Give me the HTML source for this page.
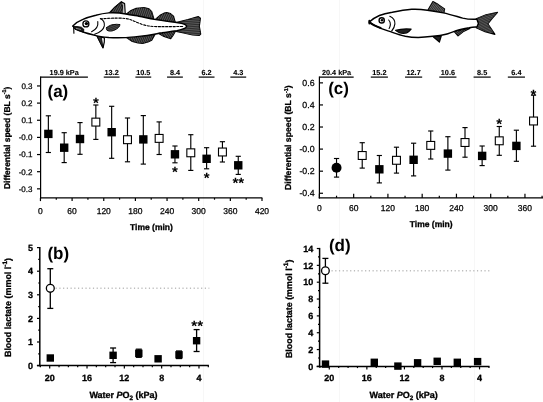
<!DOCTYPE html>
<html><head><meta charset="utf-8"><title>Figure</title>
<style>
html,body{margin:0;padding:0;background:#fff;}
svg{display:block;}
svg text{text-rendering:geometricPrecision;font-family:"Liberation Sans",sans-serif;fill:#000;}
</style></head><body>
<svg width="543" height="402" viewBox="0 0 543 402">
<rect width="543" height="402" fill="#fff"/>
<line x1="203.5" y1="0" x2="203.5" y2="402" stroke="#f7f7f7" stroke-width="1"/><line x1="339.5" y1="0" x2="339.5" y2="402" stroke="#f7f7f7" stroke-width="1"/><line x1="474.5" y1="0" x2="474.5" y2="402" stroke="#f7f7f7" stroke-width="1"/>
<g id="cod" stroke="#000" stroke-width="1.2" stroke-linejoin="round" stroke-linecap="round" fill="none">
<path d="M109 13.4 L115 7.2 L121.3 1.9 L124.6 3.6 L125.2 13.6 Z" fill="#fff" stroke-width="1.2"/>
<clipPath id="fc1"><path d="M109 13.4 L115 7.2 L121.3 1.9 L122.4 6 L122 13.4 Z"/></clipPath>
<path d="M109 13.4 L115 7.2 L121.3 1.9 L122.4 6 L122 13.4 Z" fill="#262626" stroke-width="1.2"/>
<path d="M101.2 12.0L111.6 -7.7M102.9 12.9L113.4 -6.8M104.7 13.8L115.2 -5.9M106.5 14.8L116.9 -4.9M108.2 15.7L118.7 -4.0M110.0 16.7L120.5 -3.0M111.8 17.6L122.2 -2.1M113.5 18.5L124.0 -1.2M115.3 19.5L125.8 -0.2M117.1 20.4L127.5 0.7M118.8 21.4L129.3 1.7M120.6 22.3L131.1 2.6M122.4 23.2L132.8 3.5" clip-path="url(#fc1)" stroke="#9a9a9a" stroke-width="0.45" fill="none"/>
<path d="M123.6 4.2 L123.8 13" stroke="#777" stroke-width="0.6"/>
<clipPath id="fc2"><path d="M126.5 14 L131 10.6 L136.2 8.4 L144 7.5 L149 8.8 L151.7 11.6 L153.9 18.9 Z"/></clipPath>
<path d="M126.5 14 L131 10.6 L136.2 8.4 L144 7.5 L149 8.8 L151.7 11.6 L153.9 18.9 Z" fill="#262626" stroke-width="1.2"/>
<path d="M117.5 22.1L128.6 -8.4M119.4 22.8L130.5 -7.7M121.3 23.5L132.4 -7.0M123.2 24.1L134.3 -6.4M125.1 24.8L136.2 -5.7M126.9 25.5L138.0 -5.0M128.8 26.2L139.9 -4.3M130.7 26.9L141.8 -3.6M132.6 27.6L143.7 -2.9M134.4 28.3L145.6 -2.3M136.3 28.9L147.4 -1.6M138.2 29.6L149.3 -0.9M140.1 30.3L151.2 -0.2M142.0 31.0L153.1 0.5M143.8 31.7L154.9 1.2M145.7 32.4L156.8 1.9M147.6 33.0L158.7 2.5M149.5 33.7L160.6 3.2M151.4 34.4L162.5 3.9" clip-path="url(#fc2)" stroke="#9a9a9a" stroke-width="0.45" fill="none"/>
<clipPath id="fc3"><path d="M155.6 19.2 L160 15.4 L164 13.2 L166.8 12.6 L170.5 13.6 L173.5 16.2 L175.4 22.8 Z"/></clipPath>
<path d="M155.6 19.2 L160 15.4 L164 13.2 L166.8 12.6 L170.5 13.6 L173.5 16.2 L175.4 22.8 Z" fill="#262626" stroke-width="1.2"/>
<path d="M147.4 23.2L158.2 -0.1M149.2 24.1L160.1 0.8M151.0 24.9L161.9 1.6M152.8 25.8L163.7 2.5M154.6 26.6L165.5 3.3M156.4 27.5L167.3 4.2M158.3 28.3L169.1 5.0M160.1 29.1L170.9 5.9M161.9 30.0L172.7 6.7M163.7 30.8L174.6 7.5M165.5 31.7L176.4 8.4M167.3 32.5L178.2 9.2M169.1 33.4L180.0 10.1M170.9 34.2L181.8 10.9M172.8 35.1L183.6 11.8" clip-path="url(#fc3)" stroke="#9a9a9a" stroke-width="0.45" fill="none"/>
<clipPath id="fc4"><path d="M126.5 37.6 L132.3 41.4 L138 43 L142.7 43.3 L148 42 L151.7 40.1 L155 34.4 Z"/></clipPath>
<path d="M126.5 37.6 L132.3 41.4 L138 43 L142.7 43.3 L148 42 L151.7 40.1 L155 34.4 Z" fill="#262626" stroke-width="1.2"/>
<path d="M149.9 16.6L163.7 46.2M148.1 17.4L161.9 47.0M146.3 18.3L160.1 47.9M144.5 19.1L158.3 48.7M142.7 20.0L156.5 49.6M140.8 20.8L154.7 50.4M139.0 21.7L152.8 51.3M137.2 22.5L151.0 52.1M135.4 23.3L149.2 53.0M133.6 24.2L147.4 53.8M131.8 25.0L145.6 54.7M130.0 25.9L143.8 55.5M128.2 26.7L142.0 56.3M126.3 27.6L140.2 57.2M124.5 28.4L138.3 58.0M122.7 29.3L136.5 58.9M120.9 30.1L134.7 59.7M119.1 31.0L132.9 60.6M117.3 31.8L131.1 61.4" clip-path="url(#fc4)" stroke="#9a9a9a" stroke-width="0.45" fill="none"/>
<clipPath id="fc5"><path d="M158.6 33.4 L164 36.4 L170.7 38.7 L173 35.5 L175.4 31.2 Z"/></clipPath>
<path d="M158.6 33.4 L164 36.4 L170.7 38.7 L173 35.5 L175.4 31.2 Z" fill="#262626" stroke-width="1.2"/>
<path d="M170.6 19.2L183.1 37.0M169.0 20.4L181.4 38.2M167.3 21.5L179.8 39.3M165.7 22.7L178.1 40.4M164.1 23.8L176.5 41.6M162.4 25.0L174.9 42.7M160.8 26.1L173.2 43.9M159.1 27.3L171.6 45.0M157.5 28.4L169.9 46.2M155.9 29.6L168.3 47.3M154.2 30.7L166.7 48.5M152.6 31.8L165.0 49.6M150.9 33.0L163.4 50.8" clip-path="url(#fc5)" stroke="#9a9a9a" stroke-width="0.45" fill="none"/>
<clipPath id="fc6"><path d="M176 22.6 L188 19.6 L198.2 16.6 L200.4 18.2 L199.3 26.3 L200.7 34.1 L199.4 35.3 L192.6 35 L183.6 33 L175 31.2 Z"/></clipPath>
<path d="M176 22.6 L188 19.6 L198.2 16.6 L200.4 18.2 L199.3 26.3 L200.7 34.1 L199.4 35.3 L192.6 35 L183.6 33 L175 31.2 Z" fill="#262626" stroke-width="1.2"/>
<path d="M169.4 9.3L204.1 6.8M169.5 11.1L204.2 8.6M169.6 12.8L204.4 10.4M169.8 14.6L204.5 12.2M169.9 16.4L204.6 14.0M170.0 18.2L204.7 15.8M170.1 20.0L204.9 17.6M170.3 21.8L205.0 19.4M170.4 23.6L205.1 21.2M170.5 25.4L205.2 23.0M170.6 27.2L205.4 24.8M170.8 29.0L205.5 26.6M170.9 30.8L205.6 28.4M171.0 32.6L205.7 30.2M171.1 34.4L205.9 32.0M171.3 36.2L206.0 33.8M171.4 38.0L206.1 35.6M171.5 39.8L206.2 37.4M171.6 41.6L206.4 39.2M171.8 43.4L206.5 40.9M171.9 45.2L206.6 42.7" clip-path="url(#fc6)" stroke="#9a9a9a" stroke-width="0.45" fill="none"/>
<path d="M97.2 36.4 L100.2 42.5 L103 47.9 L104.3 42 L104.4 37.8 Z" fill="#fff"/>
<path d="M97.2 36.4 L100.2 42.5 L103 47.9 L102 41 L101.2 37.2 Z" fill="#2e2e2e" stroke-width="0.8"/>
<path d="M72.8 25.9 C76 22.5 79 21 82.9 19.4 C87 17.6 91 16.5 95.9 15.3 C100 14.1 104 13.3 108.8 12.9 C114 12.5 120 12.9 125.9 14 C130 14.8 134 15.4 138.8 16.2 C144 17.2 149 18.4 154.3 19.4 C162 20.6 170 21.6 178 22.7 C182 23.2 186.4 24.4 186.6 26.4 C186.4 28.2 182 29.6 177 30.6 C172 31.2 167 31.8 162.1 32.8 C159 33.2 157 33.8 154.3 34.3 C149 35.3 144 35.9 138.8 36.4 C134 37 130 37.5 125.9 37.6 C120 37.8 114 37.8 108.8 37.5 C104 37 100 36.6 95.9 35.6 C91 34.4 87 33.4 83 32 C80 31 77 29.6 75 28.2 Z" fill="#fff" stroke-width="1.45"/>
<path d="M73.2 26.6 L77 26.6 L81.4 27.2 L84 29.6 L83.2 32 L79 30.8 L75.2 29.4 Z" fill="#1a1a1a" stroke-width="0.9"/>
<path d="M76.4 28.4 L80.6 29.4" stroke="#bbb" stroke-width="0.7"/>
<path d="M73.7 27.5 L73.9 33.2" stroke-width="1.1"/>
<circle cx="85.9" cy="23.9" r="3" stroke-width="1.3" fill="#fff"/>
<circle cx="86.4" cy="23.6" r="1.7" fill="#000" stroke="none"/>
<path d="M97.8 21.6 C98.4 26 96 29.6 91.6 31.7" stroke-width="1.1"/>
<path d="M100.4 18.6 C103 20 104.8 22.8 104.3 25.9 C103.6 29.6 99.6 32.6 94.6 34.3" stroke-width="1.1"/>
<path d="M100.4 18.8 C106 18.6 112 18 119.4 18.1 C124 18.2 127 18.6 129.8 19.4 C134 20.8 138 23 142.7 24.6 C147 25.8 150 26.3 154.3 26.5 C162 26.8 172 26.6 184 26.5" stroke-width="1.1" stroke-dasharray="2.2 1.5"/>
<clipPath id="fc7"><path d="M106.5 27.8 C108.5 26 110.5 25 113 24.6 C115.5 24.2 118 24.2 120 24.6 C119.8 26 119.2 27 118.1 27.8 C116 29.6 113.8 30.6 111.6 31 C109.8 31.2 108.2 31 107.1 30.4 C106.4 29.6 106.2 28.6 106.5 27.8 Z"/></clipPath>
<path d="M106.5 27.8 C108.5 26 110.5 25 113 24.6 C115.5 24.2 118 24.2 120 24.6 C119.8 26 119.2 27 118.1 27.8 C116 29.6 113.8 30.6 111.6 31 C109.8 31.2 108.2 31 107.1 30.4 C106.4 29.6 106.2 28.6 106.5 27.8 Z" fill="#262626" stroke-width="1.0"/>
<path d="M101.4 21.9L118.6 15.6M101.9 23.4L119.1 17.1M102.5 24.9L119.7 18.6M103.0 26.4L120.2 20.1M103.5 27.9L120.8 21.6M104.1 29.4L121.3 23.1M104.6 30.9L121.9 24.6M105.2 32.4L122.4 26.1M105.7 33.9L123.0 27.6M106.3 35.4L123.5 29.1M106.8 36.9L124.0 30.6M107.4 38.4L124.6 32.1M107.9 39.9L125.1 33.6" clip-path="url(#fc7)" stroke="#777" stroke-width="0.45" fill="none"/>
</g>
<g id="herring" stroke="#000" stroke-width="1.2" stroke-linejoin="round" stroke-linecap="round" fill="none">
<clipPath id="fc8"><path d="M427.8 10.3 L432.9 1.6 L438 4.4 L444.6 9 L443.9 13 Z"/></clipPath>
<path d="M427.8 10.3 L432.9 1.6 L438 4.4 L444.6 9 L443.9 13 Z" fill="#262626" stroke-width="1.2"/>
<path d="M419.5 11.0L432.2 -9.2M420.8 11.8L433.4 -8.5M422.0 12.6L434.7 -7.7M423.3 13.4L436.0 -6.9M424.6 14.2L437.2 -6.1M425.8 15.0L438.5 -5.3M427.1 15.8L439.8 -4.5M428.4 16.6L441.1 -3.7M429.7 17.4L442.3 -2.9M430.9 18.2L443.6 -2.1M432.2 19.0L444.9 -1.3M433.5 19.8L446.2 -0.5M434.8 20.6L447.4 0.3M436.0 21.4L448.7 1.1M437.3 22.2L450.0 1.9M438.6 23.0L451.2 2.7M439.8 23.7L452.5 3.5" clip-path="url(#fc8)" stroke="#bbb" stroke-width="0.45" fill="none"/>
<path d="M432.9 36.5 L439.4 42 L441.3 35.8 Z" fill="#222"/>
<clipPath id="fc9"><path d="M454.3 31.6 L458 35.9 L463 31.7 L469.8 28.4 Z"/></clipPath>
<path d="M454.3 31.6 L458 35.9 L463 31.7 L469.8 28.4 Z" fill="#222" stroke-width="1.2"/>
<path d="M447.3 28.8L463.8 17.3M448.3 30.2L464.7 18.6M449.2 31.5L465.7 19.9M450.1 32.8L466.6 21.2M451.0 34.1L467.5 22.5M451.9 35.4L468.4 23.9M452.8 36.7L469.3 25.2M453.8 38.0L470.2 26.5M454.7 39.3L471.2 27.8M455.6 40.6L472.1 29.1M456.5 42.0L473.0 30.4M457.4 43.3L473.9 31.7M458.3 44.6L474.8 33.0M459.3 45.9L475.7 34.3M460.2 47.2L476.7 35.7" clip-path="url(#fc9)" stroke="#aaa" stroke-width="0.4" fill="none"/>
<clipPath id="fc10"><path d="M476.2 18.8 L486 14.8 L497.5 12.3 L492 18.6 L487.8 23.9 L491.4 29 L494.9 34.3 L485 31.6 L476.2 27.8 L478.4 23.4 Z"/></clipPath>
<path d="M476.2 18.8 L486 14.8 L497.5 12.3 L492 18.6 L487.8 23.9 L491.4 29 L494.9 34.3 L485 31.6 L476.2 27.8 L478.4 23.4 Z" fill="#222" stroke-width="1.2"/>
<path d="M469.5 7.9L495.2 -0.4M470.0 9.3L495.7 1.0M470.4 10.8L496.2 2.4M470.9 12.2L496.6 3.8M471.4 13.6L497.1 5.3M471.8 15.0L497.6 6.7M472.3 16.5L498.0 8.1M472.7 17.9L498.5 9.5M473.2 19.3L498.9 11.0M473.7 20.8L499.4 12.4M474.1 22.2L499.9 13.8M474.6 23.6L500.3 15.2M475.1 25.0L500.8 16.7M475.5 26.5L501.3 18.1M476.0 27.9L501.7 19.5M476.4 29.3L502.2 21.0M476.9 30.7L502.6 22.4M477.4 32.2L503.1 23.8M477.8 33.6L503.6 25.2M478.3 35.0L504.0 26.7M478.8 36.4L504.5 28.1" clip-path="url(#fc10)" stroke="#aaa" stroke-width="0.4" fill="none"/>
<path d="M369.3 22 C372 19.4 375.5 17.2 379.4 15.5 C383.5 13.9 388 13 392.3 12.3 C398.5 11 405 9.8 411.7 9.3 C417 9 422 9.4 427.3 10.3 C433 11 438 11.8 443.3 12.9 C450 14.3 456.5 16.4 462.7 18.1 C467.5 19.2 472 19.5 476.9 19.2 L478.4 23.4 L476.9 27 C474 26.8 471.5 27.2 469.2 27.8 C464.8 28.6 460.4 29.4 456.2 30.6 C452.8 32 449.4 33.4 445.9 34.3 C441.6 35.5 437.2 36 432.9 36.3 C428 36.9 423 37.4 418.2 37.5 C413.8 37.4 409.6 37 405.3 36.2 C400.8 35.2 396.6 33.8 392.3 32.3 C388 30.8 383.5 29.4 379.4 27.8 C375.6 26 372.2 24.2 369.3 22 Z" fill="#fff" stroke-width="1.4"/>
<path d="M369.5 22.2 C372 24.4 376 26.4 380.7 27.8" stroke-width="1.8"/>
<path d="M369.4 20.8 L369.4 23.4" stroke-width="2"/>
<circle cx="381.7" cy="20.4" r="2.6" stroke-width="1.4"/>
<circle cx="382" cy="20.3" r="1.25" fill="#000" stroke="none"/>
<path d="M389.8 16.2 C393.4 17.8 395.2 20.6 394.9 23.9 C394.6 26.8 393.4 29.2 391.7 31" stroke-width="1.1"/>
<path d="M388.7 20 C390 21.4 390.6 23 390.4 24.6 C390.2 26 389.8 27.4 389.1 28.5" stroke-width="1.1"/>
<path d="M395.6 30.4 C400 29 406 28.6 411.1 29.1 C409.8 30.8 408.4 32 406.6 33 C404.4 33.4 402.2 33.4 400.1 33 C398.4 32.2 396.8 31.4 395.6 30.4 Z" fill="#222"/>
</g>
<line x1="40.60" y1="76.50" x2="40.60" y2="198.50" stroke="#000" stroke-width="1.2" />
<line x1="40.00" y1="197.90" x2="262.40" y2="197.90" stroke="#000" stroke-width="1.2" />
<line x1="37.00" y1="85.95" x2="40.60" y2="85.95" stroke="#000" stroke-width="1.2" />
<text x="32.50" y="88.85" font-size="8" stroke="#000" stroke-width="0.25" text-anchor="end" >0.3</text>
<line x1="37.00" y1="103.10" x2="40.60" y2="103.10" stroke="#000" stroke-width="1.2" />
<text x="32.50" y="106.00" font-size="8" stroke="#000" stroke-width="0.25" text-anchor="end" >0.2</text>
<line x1="37.00" y1="120.25" x2="40.60" y2="120.25" stroke="#000" stroke-width="1.2" />
<text x="32.50" y="123.15" font-size="8" stroke="#000" stroke-width="0.25" text-anchor="end" >0.1</text>
<line x1="37.00" y1="137.40" x2="40.60" y2="137.40" stroke="#000" stroke-width="1.2" />
<text x="32.50" y="140.30" font-size="8" stroke="#000" stroke-width="0.25" text-anchor="end" >-0.0</text>
<line x1="37.00" y1="154.55" x2="40.60" y2="154.55" stroke="#000" stroke-width="1.2" />
<text x="32.50" y="157.45" font-size="8" stroke="#000" stroke-width="0.25" text-anchor="end" >-0.1</text>
<line x1="37.00" y1="171.70" x2="40.60" y2="171.70" stroke="#000" stroke-width="1.2" />
<text x="32.50" y="174.60" font-size="8" stroke="#000" stroke-width="0.25" text-anchor="end" >-0.2</text>
<line x1="37.00" y1="188.85" x2="40.60" y2="188.85" stroke="#000" stroke-width="1.2" />
<text x="32.50" y="191.75" font-size="8" stroke="#000" stroke-width="0.25" text-anchor="end" >-0.3</text>
<line x1="40.45" y1="197.90" x2="40.45" y2="201.10" stroke="#000" stroke-width="1.2" />
<text x="40.45" y="214.00" font-size="8.5" stroke="#000" stroke-width="0.25" text-anchor="middle" >0</text>
<line x1="56.28" y1="197.90" x2="56.28" y2="199.70" stroke="#000" stroke-width="1.2" />
<line x1="72.10" y1="197.90" x2="72.10" y2="201.10" stroke="#000" stroke-width="1.2" />
<text x="72.10" y="214.00" font-size="8.5" stroke="#000" stroke-width="0.25" text-anchor="middle" >60</text>
<line x1="87.92" y1="197.90" x2="87.92" y2="199.70" stroke="#000" stroke-width="1.2" />
<line x1="103.75" y1="197.90" x2="103.75" y2="201.10" stroke="#000" stroke-width="1.2" />
<text x="103.75" y="214.00" font-size="8.5" stroke="#000" stroke-width="0.25" text-anchor="middle" >120</text>
<line x1="119.58" y1="197.90" x2="119.58" y2="199.70" stroke="#000" stroke-width="1.2" />
<line x1="135.40" y1="197.90" x2="135.40" y2="201.10" stroke="#000" stroke-width="1.2" />
<text x="135.40" y="214.00" font-size="8.5" stroke="#000" stroke-width="0.25" text-anchor="middle" >180</text>
<line x1="151.22" y1="197.90" x2="151.22" y2="199.70" stroke="#000" stroke-width="1.2" />
<line x1="167.05" y1="197.90" x2="167.05" y2="201.10" stroke="#000" stroke-width="1.2" />
<text x="167.05" y="214.00" font-size="8.5" stroke="#000" stroke-width="0.25" text-anchor="middle" >240</text>
<line x1="182.88" y1="197.90" x2="182.88" y2="199.70" stroke="#000" stroke-width="1.2" />
<line x1="198.70" y1="197.90" x2="198.70" y2="201.10" stroke="#000" stroke-width="1.2" />
<text x="198.70" y="214.00" font-size="8.5" stroke="#000" stroke-width="0.25" text-anchor="middle" >300</text>
<line x1="214.52" y1="197.90" x2="214.52" y2="199.70" stroke="#000" stroke-width="1.2" />
<line x1="230.35" y1="197.90" x2="230.35" y2="201.10" stroke="#000" stroke-width="1.2" />
<text x="230.35" y="214.00" font-size="8.5" stroke="#000" stroke-width="0.25" text-anchor="middle" >360</text>
<line x1="246.18" y1="197.90" x2="246.18" y2="199.70" stroke="#000" stroke-width="1.2" />
<line x1="262.00" y1="197.90" x2="262.00" y2="201.10" stroke="#000" stroke-width="1.2" />
<text x="262.00" y="214.00" font-size="8.5" stroke="#000" stroke-width="0.25" text-anchor="middle" >420</text>
<text x="151.42" y="229.60" font-size="8.5" font-weight="bold" stroke="#000" stroke-width="0.3" text-anchor="middle" >Time (min)</text>
<line x1="40.45" y1="77.10" x2="87.92" y2="77.10" stroke="#000" stroke-width="1.2" />
<text x="64.19" y="74.60" font-size="7.3" font-weight="bold" stroke="#000" stroke-width="0.1" text-anchor="middle" >19.9 kPa</text>
<line x1="103.75" y1="77.10" x2="119.58" y2="77.10" stroke="#000" stroke-width="1.2" />
<text x="111.66" y="74.60" font-size="7.3" font-weight="bold" stroke="#000" stroke-width="0.1" text-anchor="middle" >13.2</text>
<line x1="135.40" y1="77.10" x2="151.22" y2="77.10" stroke="#000" stroke-width="1.2" />
<text x="143.31" y="74.60" font-size="7.3" font-weight="bold" stroke="#000" stroke-width="0.1" text-anchor="middle" >10.5</text>
<line x1="167.05" y1="77.10" x2="182.88" y2="77.10" stroke="#000" stroke-width="1.2" />
<text x="174.96" y="74.60" font-size="7.3" font-weight="bold" stroke="#000" stroke-width="0.1" text-anchor="middle" >8.4</text>
<line x1="198.70" y1="77.10" x2="214.52" y2="77.10" stroke="#000" stroke-width="1.2" />
<text x="206.61" y="74.60" font-size="7.3" font-weight="bold" stroke="#000" stroke-width="0.1" text-anchor="middle" >6.2</text>
<line x1="230.35" y1="77.10" x2="246.18" y2="77.10" stroke="#000" stroke-width="1.2" />
<text x="238.26" y="74.60" font-size="7.3" font-weight="bold" stroke="#000" stroke-width="0.1" text-anchor="middle" >4.3</text>
<text x="57.90" y="97.00" font-size="17" font-weight="bold" text-anchor="middle" >(a)</text>
<text transform="translate(9.5,137.8) rotate(-90)" font-size="8.5" font-weight="bold" stroke="#000" stroke-width="0.3" text-anchor="middle">Differential speed (BL s<tspan font-size="5.5" dy="-3.2">-1</tspan><tspan dy="3.2">)</tspan></text>
<line x1="48.36" y1="115.80" x2="48.36" y2="152.50" stroke="#000" stroke-width="1.15" />
<line x1="45.76" y1="115.80" x2="50.96" y2="115.80" stroke="#000" stroke-width="1.15" />
<line x1="45.76" y1="152.50" x2="50.96" y2="152.50" stroke="#000" stroke-width="1.15" />
<rect x="44.16" y="129.70" width="8.4" height="8.4" fill="#000"/>
<line x1="64.19" y1="132.70" x2="64.19" y2="162.60" stroke="#000" stroke-width="1.15" />
<line x1="61.59" y1="132.70" x2="66.79" y2="132.70" stroke="#000" stroke-width="1.15" />
<line x1="61.59" y1="162.60" x2="66.79" y2="162.60" stroke="#000" stroke-width="1.15" />
<rect x="59.99" y="143.50" width="8.4" height="8.4" fill="#000"/>
<line x1="80.01" y1="122.60" x2="80.01" y2="154.30" stroke="#000" stroke-width="1.15" />
<line x1="77.41" y1="122.60" x2="82.61" y2="122.60" stroke="#000" stroke-width="1.15" />
<line x1="77.41" y1="154.30" x2="82.61" y2="154.30" stroke="#000" stroke-width="1.15" />
<rect x="75.81" y="134.80" width="8.4" height="8.4" fill="#000"/>
<line x1="95.84" y1="105.00" x2="95.84" y2="139.40" stroke="#000" stroke-width="1.15" />
<line x1="93.24" y1="105.00" x2="98.44" y2="105.00" stroke="#000" stroke-width="1.15" />
<line x1="93.24" y1="139.40" x2="98.44" y2="139.40" stroke="#000" stroke-width="1.15" />
<rect x="91.89" y="118.15" width="7.9" height="7.9" fill="#fff" stroke="#000" stroke-width="1.1"/>
<line x1="111.66" y1="106.30" x2="111.66" y2="158.30" stroke="#000" stroke-width="1.15" />
<line x1="109.06" y1="106.30" x2="114.26" y2="106.30" stroke="#000" stroke-width="1.15" />
<line x1="109.06" y1="158.30" x2="114.26" y2="158.30" stroke="#000" stroke-width="1.15" />
<rect x="107.46" y="128.00" width="8.4" height="8.4" fill="#000"/>
<line x1="127.49" y1="118.00" x2="127.49" y2="161.80" stroke="#000" stroke-width="1.15" />
<line x1="124.89" y1="118.00" x2="130.09" y2="118.00" stroke="#000" stroke-width="1.15" />
<line x1="124.89" y1="161.80" x2="130.09" y2="161.80" stroke="#000" stroke-width="1.15" />
<rect x="123.54" y="135.75" width="7.9" height="7.9" fill="#fff" stroke="#000" stroke-width="1.1"/>
<line x1="143.31" y1="115.60" x2="143.31" y2="164.10" stroke="#000" stroke-width="1.15" />
<line x1="140.71" y1="115.60" x2="145.91" y2="115.60" stroke="#000" stroke-width="1.15" />
<line x1="140.71" y1="164.10" x2="145.91" y2="164.10" stroke="#000" stroke-width="1.15" />
<rect x="139.11" y="135.20" width="8.4" height="8.4" fill="#000"/>
<line x1="159.14" y1="121.90" x2="159.14" y2="154.50" stroke="#000" stroke-width="1.15" />
<line x1="156.54" y1="121.90" x2="161.74" y2="121.90" stroke="#000" stroke-width="1.15" />
<line x1="156.54" y1="154.50" x2="161.74" y2="154.50" stroke="#000" stroke-width="1.15" />
<rect x="155.19" y="134.45" width="7.9" height="7.9" fill="#fff" stroke="#000" stroke-width="1.1"/>
<line x1="174.96" y1="146.00" x2="174.96" y2="162.80" stroke="#000" stroke-width="1.15" />
<line x1="172.36" y1="146.00" x2="177.56" y2="146.00" stroke="#000" stroke-width="1.15" />
<line x1="172.36" y1="162.80" x2="177.56" y2="162.80" stroke="#000" stroke-width="1.15" />
<rect x="170.76" y="150.10" width="8.4" height="8.4" fill="#000"/>
<line x1="190.79" y1="134.70" x2="190.79" y2="170.40" stroke="#000" stroke-width="1.15" />
<line x1="188.19" y1="134.70" x2="193.39" y2="134.70" stroke="#000" stroke-width="1.15" />
<line x1="188.19" y1="170.40" x2="193.39" y2="170.40" stroke="#000" stroke-width="1.15" />
<rect x="186.84" y="148.85" width="7.9" height="7.9" fill="#fff" stroke="#000" stroke-width="1.1"/>
<line x1="206.61" y1="147.70" x2="206.61" y2="168.80" stroke="#000" stroke-width="1.15" />
<line x1="204.01" y1="147.70" x2="209.21" y2="147.70" stroke="#000" stroke-width="1.15" />
<line x1="204.01" y1="168.80" x2="209.21" y2="168.80" stroke="#000" stroke-width="1.15" />
<rect x="202.41" y="154.60" width="8.4" height="8.4" fill="#000"/>
<line x1="222.44" y1="141.70" x2="222.44" y2="162.00" stroke="#000" stroke-width="1.15" />
<line x1="219.84" y1="141.70" x2="225.04" y2="141.70" stroke="#000" stroke-width="1.15" />
<line x1="219.84" y1="162.00" x2="225.04" y2="162.00" stroke="#000" stroke-width="1.15" />
<rect x="218.49" y="148.05" width="7.9" height="7.9" fill="#fff" stroke="#000" stroke-width="1.1"/>
<line x1="238.26" y1="156.30" x2="238.26" y2="174.40" stroke="#000" stroke-width="1.15" />
<line x1="235.66" y1="156.30" x2="240.86" y2="156.30" stroke="#000" stroke-width="1.15" />
<line x1="235.66" y1="174.40" x2="240.86" y2="174.40" stroke="#000" stroke-width="1.15" />
<rect x="234.06" y="161.10" width="8.4" height="8.4" fill="#000"/>
<text x="95.84" y="107.90" font-size="15" font-weight="bold" text-anchor="middle" >*</text>
<text x="174.96" y="176.90" font-size="15" font-weight="bold" text-anchor="middle" >*</text>
<text x="206.61" y="182.70" font-size="15" font-weight="bold" text-anchor="middle" >*</text>
<text x="238.26" y="188.20" font-size="15" font-weight="bold" text-anchor="middle" >**</text>
<line x1="319.40" y1="76.50" x2="319.40" y2="198.50" stroke="#000" stroke-width="1.2" />
<line x1="318.80" y1="197.90" x2="543.00" y2="197.90" stroke="#000" stroke-width="1.2" />
<line x1="319.40" y1="82.86" x2="323.00" y2="82.86" stroke="#000" stroke-width="1.2" />
<text x="314.60" y="85.96" font-size="8.8" stroke="#000" stroke-width="0.25" text-anchor="end" >0.6</text>
<line x1="319.40" y1="104.94" x2="323.00" y2="104.94" stroke="#000" stroke-width="1.2" />
<text x="314.60" y="108.04" font-size="8.8" stroke="#000" stroke-width="0.25" text-anchor="end" >0.4</text>
<line x1="319.40" y1="127.02" x2="323.00" y2="127.02" stroke="#000" stroke-width="1.2" />
<text x="314.60" y="130.12" font-size="8.8" stroke="#000" stroke-width="0.25" text-anchor="end" >0.2</text>
<line x1="319.40" y1="149.10" x2="323.00" y2="149.10" stroke="#000" stroke-width="1.2" />
<text x="314.60" y="152.20" font-size="8.8" stroke="#000" stroke-width="0.25" text-anchor="end" >-0.0</text>
<line x1="319.40" y1="171.18" x2="323.00" y2="171.18" stroke="#000" stroke-width="1.2" />
<text x="314.60" y="174.28" font-size="8.8" stroke="#000" stroke-width="0.25" text-anchor="end" >-0.2</text>
<line x1="319.40" y1="193.26" x2="323.00" y2="193.26" stroke="#000" stroke-width="1.2" />
<text x="314.60" y="196.36" font-size="8.8" stroke="#000" stroke-width="0.25" text-anchor="end" >-0.4</text>
<line x1="319.40" y1="197.90" x2="319.40" y2="193.70" stroke="#000" stroke-width="1.2" />
<text x="319.40" y="211.20" font-size="8.5" stroke="#000" stroke-width="0.25" text-anchor="middle" >0</text>
<line x1="336.53" y1="197.90" x2="336.53" y2="195.70" stroke="#000" stroke-width="1.2" />
<line x1="353.66" y1="197.90" x2="353.66" y2="193.70" stroke="#000" stroke-width="1.2" />
<text x="353.66" y="211.20" font-size="8.5" stroke="#000" stroke-width="0.25" text-anchor="middle" >60</text>
<line x1="370.79" y1="197.90" x2="370.79" y2="195.70" stroke="#000" stroke-width="1.2" />
<line x1="387.92" y1="197.90" x2="387.92" y2="193.70" stroke="#000" stroke-width="1.2" />
<text x="387.92" y="211.20" font-size="8.5" stroke="#000" stroke-width="0.25" text-anchor="middle" >120</text>
<line x1="405.05" y1="197.90" x2="405.05" y2="195.70" stroke="#000" stroke-width="1.2" />
<line x1="422.18" y1="197.90" x2="422.18" y2="193.70" stroke="#000" stroke-width="1.2" />
<text x="422.18" y="211.20" font-size="8.5" stroke="#000" stroke-width="0.25" text-anchor="middle" >180</text>
<line x1="439.31" y1="197.90" x2="439.31" y2="195.70" stroke="#000" stroke-width="1.2" />
<line x1="456.44" y1="197.90" x2="456.44" y2="193.70" stroke="#000" stroke-width="1.2" />
<text x="456.44" y="211.20" font-size="8.5" stroke="#000" stroke-width="0.25" text-anchor="middle" >240</text>
<line x1="473.57" y1="197.90" x2="473.57" y2="195.70" stroke="#000" stroke-width="1.2" />
<line x1="490.70" y1="197.90" x2="490.70" y2="193.70" stroke="#000" stroke-width="1.2" />
<text x="490.70" y="211.20" font-size="8.5" stroke="#000" stroke-width="0.25" text-anchor="middle" >300</text>
<line x1="507.83" y1="197.90" x2="507.83" y2="195.70" stroke="#000" stroke-width="1.2" />
<line x1="524.96" y1="197.90" x2="524.96" y2="193.70" stroke="#000" stroke-width="1.2" />
<text x="524.96" y="211.20" font-size="8.5" stroke="#000" stroke-width="0.25" text-anchor="middle" >360</text>
<line x1="542.09" y1="197.90" x2="542.09" y2="195.70" stroke="#000" stroke-width="1.2" />
<text x="431.20" y="227.10" font-size="8.5" font-weight="bold" stroke="#000" stroke-width="0.3" text-anchor="middle" >Time (min)</text>
<line x1="319.40" y1="77.10" x2="353.66" y2="77.10" stroke="#000" stroke-width="1.2" />
<text x="336.53" y="74.60" font-size="7.3" font-weight="bold" stroke="#000" stroke-width="0.1" text-anchor="middle" >20.4 kPa</text>
<line x1="370.79" y1="77.10" x2="387.92" y2="77.10" stroke="#000" stroke-width="1.2" />
<text x="379.35" y="74.60" font-size="7.3" font-weight="bold" stroke="#000" stroke-width="0.1" text-anchor="middle" >15.2</text>
<line x1="405.05" y1="77.10" x2="422.18" y2="77.10" stroke="#000" stroke-width="1.2" />
<text x="413.61" y="74.60" font-size="7.3" font-weight="bold" stroke="#000" stroke-width="0.1" text-anchor="middle" >12.7</text>
<line x1="439.31" y1="77.10" x2="456.44" y2="77.10" stroke="#000" stroke-width="1.2" />
<text x="447.87" y="74.60" font-size="7.3" font-weight="bold" stroke="#000" stroke-width="0.1" text-anchor="middle" >10.6</text>
<line x1="473.57" y1="77.10" x2="490.70" y2="77.10" stroke="#000" stroke-width="1.2" />
<text x="482.13" y="74.60" font-size="7.3" font-weight="bold" stroke="#000" stroke-width="0.1" text-anchor="middle" >8.5</text>
<line x1="507.83" y1="77.10" x2="524.96" y2="77.10" stroke="#000" stroke-width="1.2" />
<text x="516.39" y="74.60" font-size="7.3" font-weight="bold" stroke="#000" stroke-width="0.1" text-anchor="middle" >6.4</text>
<text x="338.60" y="93.50" font-size="17" font-weight="bold" text-anchor="middle" >(c)</text>
<text transform="translate(291,137.6) rotate(-90)" font-size="8.7" font-weight="bold" stroke="#000" stroke-width="0.3" text-anchor="middle">Differential speed (BL s<tspan font-size="5.5" dy="-3.2">-1</tspan><tspan dy="3.2">)</tspan></text>
<line x1="336.53" y1="158.50" x2="336.53" y2="177.10" stroke="#000" stroke-width="1.15" />
<line x1="333.93" y1="158.50" x2="339.13" y2="158.50" stroke="#000" stroke-width="1.15" />
<line x1="333.93" y1="177.10" x2="339.13" y2="177.10" stroke="#000" stroke-width="1.15" />
<circle cx="336.53" cy="167.80" r="5" fill="#000"/>
<line x1="362.22" y1="142.70" x2="362.22" y2="168.10" stroke="#000" stroke-width="1.15" />
<line x1="359.62" y1="142.70" x2="364.82" y2="142.70" stroke="#000" stroke-width="1.15" />
<line x1="359.62" y1="168.10" x2="364.82" y2="168.10" stroke="#000" stroke-width="1.15" />
<rect x="358.27" y="151.55" width="7.9" height="7.9" fill="#fff" stroke="#000" stroke-width="1.1"/>
<line x1="379.35" y1="155.50" x2="379.35" y2="182.90" stroke="#000" stroke-width="1.15" />
<line x1="376.75" y1="155.50" x2="381.95" y2="155.50" stroke="#000" stroke-width="1.15" />
<line x1="376.75" y1="182.90" x2="381.95" y2="182.90" stroke="#000" stroke-width="1.15" />
<rect x="375.15" y="165.10" width="8.4" height="8.4" fill="#000"/>
<line x1="396.48" y1="147.20" x2="396.48" y2="173.10" stroke="#000" stroke-width="1.15" />
<line x1="393.88" y1="147.20" x2="399.08" y2="147.20" stroke="#000" stroke-width="1.15" />
<line x1="393.88" y1="173.10" x2="399.08" y2="173.10" stroke="#000" stroke-width="1.15" />
<rect x="392.53" y="156.35" width="7.9" height="7.9" fill="#fff" stroke="#000" stroke-width="1.1"/>
<line x1="413.61" y1="143.20" x2="413.61" y2="175.90" stroke="#000" stroke-width="1.15" />
<line x1="411.01" y1="143.20" x2="416.21" y2="143.20" stroke="#000" stroke-width="1.15" />
<line x1="411.01" y1="175.90" x2="416.21" y2="175.90" stroke="#000" stroke-width="1.15" />
<rect x="409.41" y="155.60" width="8.4" height="8.4" fill="#000"/>
<line x1="430.74" y1="131.00" x2="430.74" y2="159.00" stroke="#000" stroke-width="1.15" />
<line x1="428.14" y1="131.00" x2="433.34" y2="131.00" stroke="#000" stroke-width="1.15" />
<line x1="428.14" y1="159.00" x2="433.34" y2="159.00" stroke="#000" stroke-width="1.15" />
<rect x="426.79" y="141.45" width="7.9" height="7.9" fill="#fff" stroke="#000" stroke-width="1.1"/>
<line x1="447.88" y1="136.70" x2="447.88" y2="170.10" stroke="#000" stroke-width="1.15" />
<line x1="445.27" y1="136.70" x2="450.48" y2="136.70" stroke="#000" stroke-width="1.15" />
<line x1="445.27" y1="170.10" x2="450.48" y2="170.10" stroke="#000" stroke-width="1.15" />
<rect x="443.68" y="149.40" width="8.4" height="8.4" fill="#000"/>
<line x1="465.00" y1="127.60" x2="465.00" y2="157.20" stroke="#000" stroke-width="1.15" />
<line x1="462.40" y1="127.60" x2="467.61" y2="127.60" stroke="#000" stroke-width="1.15" />
<line x1="462.40" y1="157.20" x2="467.61" y2="157.20" stroke="#000" stroke-width="1.15" />
<rect x="461.06" y="138.55" width="7.9" height="7.9" fill="#fff" stroke="#000" stroke-width="1.1"/>
<line x1="482.13" y1="146.00" x2="482.13" y2="165.60" stroke="#000" stroke-width="1.15" />
<line x1="479.53" y1="146.00" x2="484.74" y2="146.00" stroke="#000" stroke-width="1.15" />
<line x1="479.53" y1="165.60" x2="484.74" y2="165.60" stroke="#000" stroke-width="1.15" />
<rect x="477.94" y="151.70" width="8.4" height="8.4" fill="#000"/>
<line x1="499.26" y1="126.50" x2="499.26" y2="155.30" stroke="#000" stroke-width="1.15" />
<line x1="496.66" y1="126.50" x2="501.87" y2="126.50" stroke="#000" stroke-width="1.15" />
<line x1="496.66" y1="155.30" x2="501.87" y2="155.30" stroke="#000" stroke-width="1.15" />
<rect x="495.31" y="136.85" width="7.9" height="7.9" fill="#fff" stroke="#000" stroke-width="1.1"/>
<line x1="516.39" y1="130.20" x2="516.39" y2="161.30" stroke="#000" stroke-width="1.15" />
<line x1="513.79" y1="130.20" x2="519.00" y2="130.20" stroke="#000" stroke-width="1.15" />
<line x1="513.79" y1="161.30" x2="519.00" y2="161.30" stroke="#000" stroke-width="1.15" />
<rect x="512.19" y="141.70" width="8.4" height="8.4" fill="#000"/>
<line x1="533.52" y1="95.20" x2="533.52" y2="146.20" stroke="#000" stroke-width="1.15" />
<line x1="530.92" y1="95.20" x2="536.12" y2="95.20" stroke="#000" stroke-width="1.15" />
<line x1="530.92" y1="146.20" x2="536.12" y2="146.20" stroke="#000" stroke-width="1.15" />
<rect x="529.57" y="117.05" width="7.9" height="7.9" fill="#fff" stroke="#000" stroke-width="1.1"/>
<text x="499.26" y="129.20" font-size="15" font-weight="bold" text-anchor="middle" >*</text>
<text x="533.52" y="99.90" font-size="15" font-weight="bold" text-anchor="middle" >*</text>
<line x1="39.80" y1="247.00" x2="39.80" y2="366.20" stroke="#000" stroke-width="1.5" />
<line x1="36.90" y1="365.60" x2="208.91" y2="365.60" stroke="#000" stroke-width="1.5" />
<line x1="37.00" y1="365.60" x2="39.80" y2="365.60" stroke="#000" stroke-width="1.2" />
<text x="30.40" y="368.80" font-size="9" font-weight="bold" stroke="#000" stroke-width="0.3" text-anchor="middle" >0</text>
<line x1="38.20" y1="353.80" x2="39.80" y2="353.80" stroke="#000" stroke-width="1.2" />
<line x1="37.00" y1="342.00" x2="39.80" y2="342.00" stroke="#000" stroke-width="1.2" />
<text x="30.40" y="345.20" font-size="9" font-weight="bold" stroke="#000" stroke-width="0.3" text-anchor="middle" >1</text>
<line x1="38.20" y1="330.20" x2="39.80" y2="330.20" stroke="#000" stroke-width="1.2" />
<line x1="37.00" y1="318.40" x2="39.80" y2="318.40" stroke="#000" stroke-width="1.2" />
<text x="30.40" y="321.60" font-size="9" font-weight="bold" stroke="#000" stroke-width="0.3" text-anchor="middle" >2</text>
<line x1="38.20" y1="306.60" x2="39.80" y2="306.60" stroke="#000" stroke-width="1.2" />
<line x1="37.00" y1="294.80" x2="39.80" y2="294.80" stroke="#000" stroke-width="1.2" />
<text x="30.40" y="298.00" font-size="9" font-weight="bold" stroke="#000" stroke-width="0.3" text-anchor="middle" >3</text>
<line x1="38.20" y1="283.00" x2="39.80" y2="283.00" stroke="#000" stroke-width="1.2" />
<line x1="37.00" y1="271.20" x2="39.80" y2="271.20" stroke="#000" stroke-width="1.2" />
<text x="30.40" y="274.40" font-size="9" font-weight="bold" stroke="#000" stroke-width="0.3" text-anchor="middle" >4</text>
<line x1="38.20" y1="259.40" x2="39.80" y2="259.40" stroke="#000" stroke-width="1.2" />
<line x1="37.00" y1="247.60" x2="39.80" y2="247.60" stroke="#000" stroke-width="1.2" />
<text x="30.40" y="250.80" font-size="9" font-weight="bold" stroke="#000" stroke-width="0.3" text-anchor="middle" >5</text>
<line x1="208.31" y1="365.60" x2="208.31" y2="367.30" stroke="#000" stroke-width="1.2" />
<line x1="198.98" y1="365.60" x2="198.98" y2="368.60" stroke="#000" stroke-width="1.2" />
<text x="198.98" y="381.20" font-size="9" font-weight="bold" stroke="#000" stroke-width="0.3" text-anchor="middle" >4</text>
<line x1="189.65" y1="365.60" x2="189.65" y2="367.30" stroke="#000" stroke-width="1.2" />
<line x1="180.32" y1="365.60" x2="180.32" y2="367.30" stroke="#000" stroke-width="1.2" />
<line x1="170.99" y1="365.60" x2="170.99" y2="367.30" stroke="#000" stroke-width="1.2" />
<line x1="161.66" y1="365.60" x2="161.66" y2="368.60" stroke="#000" stroke-width="1.2" />
<text x="161.66" y="381.20" font-size="9" font-weight="bold" stroke="#000" stroke-width="0.3" text-anchor="middle" >8</text>
<line x1="152.33" y1="365.60" x2="152.33" y2="367.30" stroke="#000" stroke-width="1.2" />
<line x1="143.00" y1="365.60" x2="143.00" y2="367.30" stroke="#000" stroke-width="1.2" />
<line x1="133.67" y1="365.60" x2="133.67" y2="367.30" stroke="#000" stroke-width="1.2" />
<line x1="124.34" y1="365.60" x2="124.34" y2="368.60" stroke="#000" stroke-width="1.2" />
<text x="124.34" y="381.20" font-size="9" font-weight="bold" stroke="#000" stroke-width="0.3" text-anchor="middle" >12</text>
<line x1="115.01" y1="365.60" x2="115.01" y2="367.30" stroke="#000" stroke-width="1.2" />
<line x1="105.68" y1="365.60" x2="105.68" y2="367.30" stroke="#000" stroke-width="1.2" />
<line x1="96.35" y1="365.60" x2="96.35" y2="367.30" stroke="#000" stroke-width="1.2" />
<line x1="87.02" y1="365.60" x2="87.02" y2="368.60" stroke="#000" stroke-width="1.2" />
<text x="87.02" y="381.20" font-size="9" font-weight="bold" stroke="#000" stroke-width="0.3" text-anchor="middle" >16</text>
<line x1="77.69" y1="365.60" x2="77.69" y2="367.30" stroke="#000" stroke-width="1.2" />
<line x1="68.36" y1="365.60" x2="68.36" y2="367.30" stroke="#000" stroke-width="1.2" />
<line x1="59.03" y1="365.60" x2="59.03" y2="367.30" stroke="#000" stroke-width="1.2" />
<line x1="49.70" y1="365.60" x2="49.70" y2="368.60" stroke="#000" stroke-width="1.2" />
<text x="49.70" y="381.20" font-size="9" font-weight="bold" stroke="#000" stroke-width="0.3" text-anchor="middle" >20</text>
<line x1="40.37" y1="365.60" x2="40.37" y2="367.30" stroke="#000" stroke-width="1.2" />
<text x="123.50" y="397.7" font-size="9" font-weight="bold" stroke="#000" stroke-width="0.3" text-anchor="middle">Water <tspan font-style="italic">P</tspan>O<tspan font-size="6.3" dy="2.4">2</tspan><tspan dy="-2.4"> (kPa)</tspan></text>
<text x="58.30" y="259.00" font-size="17" font-weight="bold" text-anchor="middle" >(b)</text>
<text transform="translate(10.6,307.5) rotate(-90)" font-size="8.95" font-weight="bold" stroke="#000" stroke-width="0.3" text-anchor="middle">Blood lactate (mmol l<tspan font-size="6.5" dy="-3.8">-1</tspan><tspan dy="3.8">)</tspan></text>
<line x1="55.60" y1="288.30" x2="209.31" y2="288.30" stroke="#bdbdbd" stroke-width="1.6" stroke-dasharray="1.2 2.53"/>
<line x1="50.30" y1="268.70" x2="50.30" y2="308.40" stroke="#000" stroke-width="1.3" />
<line x1="47.30" y1="268.70" x2="53.30" y2="268.70" stroke="#000" stroke-width="1.3" />
<line x1="47.30" y1="308.40" x2="53.30" y2="308.40" stroke="#000" stroke-width="1.3" />
<circle cx="50.30" cy="288.30" r="3.9499999999999997" fill="#fff" stroke="#000" stroke-width="1.3"/>
<rect x="46.60" y="354.30" width="7.4" height="7.4" fill="#000"/>
<line x1="113.10" y1="348.00" x2="113.10" y2="362.60" stroke="#000" stroke-width="1.3" />
<line x1="110.10" y1="348.00" x2="116.10" y2="348.00" stroke="#000" stroke-width="1.3" />
<line x1="110.10" y1="362.60" x2="116.10" y2="362.60" stroke="#000" stroke-width="1.3" />
<rect x="109.40" y="351.60" width="7.4" height="7.4" fill="#000"/>
<line x1="138.80" y1="349.20" x2="138.80" y2="357.30" stroke="#000" stroke-width="1.3" />
<line x1="135.80" y1="349.20" x2="141.80" y2="349.20" stroke="#000" stroke-width="1.3" />
<line x1="135.80" y1="357.30" x2="141.80" y2="357.30" stroke="#000" stroke-width="1.3" />
<rect x="135.10" y="349.60" width="7.4" height="7.4" fill="#000"/>
<rect x="154.40" y="355.10" width="7.4" height="7.4" fill="#000"/>
<line x1="179.00" y1="351.00" x2="179.00" y2="358.50" stroke="#000" stroke-width="1.3" />
<line x1="176.00" y1="351.00" x2="182.00" y2="351.00" stroke="#000" stroke-width="1.3" />
<line x1="176.00" y1="358.50" x2="182.00" y2="358.50" stroke="#000" stroke-width="1.3" />
<rect x="175.30" y="351.10" width="7.4" height="7.4" fill="#000"/>
<line x1="196.60" y1="329.60" x2="196.60" y2="351.50" stroke="#000" stroke-width="1.3" />
<line x1="193.60" y1="329.60" x2="199.60" y2="329.60" stroke="#000" stroke-width="1.3" />
<line x1="193.60" y1="351.50" x2="199.60" y2="351.50" stroke="#000" stroke-width="1.3" />
<rect x="192.90" y="337.00" width="7.4" height="7.4" fill="#000"/>
<text x="197.20" y="331.20" font-size="15" font-weight="bold" text-anchor="middle" >**</text>
<line x1="319.60" y1="247.90" x2="319.60" y2="367.00" stroke="#000" stroke-width="1.5" />
<line x1="316.70" y1="366.40" x2="489.53" y2="366.40" stroke="#000" stroke-width="1.5" />
<line x1="316.80" y1="366.40" x2="319.60" y2="366.40" stroke="#000" stroke-width="1.2" />
<text x="313.20" y="369.60" font-size="9" font-weight="bold" stroke="#000" stroke-width="0.3" text-anchor="end" >0</text>
<line x1="318.00" y1="357.98" x2="319.60" y2="357.98" stroke="#000" stroke-width="1.2" />
<line x1="316.80" y1="349.56" x2="319.60" y2="349.56" stroke="#000" stroke-width="1.2" />
<text x="313.20" y="352.76" font-size="9" font-weight="bold" stroke="#000" stroke-width="0.3" text-anchor="end" >2</text>
<line x1="318.00" y1="341.14" x2="319.60" y2="341.14" stroke="#000" stroke-width="1.2" />
<line x1="316.80" y1="332.72" x2="319.60" y2="332.72" stroke="#000" stroke-width="1.2" />
<text x="313.20" y="335.92" font-size="9" font-weight="bold" stroke="#000" stroke-width="0.3" text-anchor="end" >4</text>
<line x1="318.00" y1="324.30" x2="319.60" y2="324.30" stroke="#000" stroke-width="1.2" />
<line x1="316.80" y1="315.88" x2="319.60" y2="315.88" stroke="#000" stroke-width="1.2" />
<text x="313.20" y="319.08" font-size="9" font-weight="bold" stroke="#000" stroke-width="0.3" text-anchor="end" >6</text>
<line x1="318.00" y1="307.46" x2="319.60" y2="307.46" stroke="#000" stroke-width="1.2" />
<line x1="316.80" y1="299.04" x2="319.60" y2="299.04" stroke="#000" stroke-width="1.2" />
<text x="313.20" y="302.24" font-size="9" font-weight="bold" stroke="#000" stroke-width="0.3" text-anchor="end" >8</text>
<line x1="318.00" y1="290.62" x2="319.60" y2="290.62" stroke="#000" stroke-width="1.2" />
<line x1="316.80" y1="282.20" x2="319.60" y2="282.20" stroke="#000" stroke-width="1.2" />
<text x="313.20" y="285.40" font-size="9" font-weight="bold" stroke="#000" stroke-width="0.3" text-anchor="end" >10</text>
<line x1="318.00" y1="273.78" x2="319.60" y2="273.78" stroke="#000" stroke-width="1.2" />
<line x1="316.80" y1="265.36" x2="319.60" y2="265.36" stroke="#000" stroke-width="1.2" />
<text x="313.20" y="268.56" font-size="9" font-weight="bold" stroke="#000" stroke-width="0.3" text-anchor="end" >12</text>
<line x1="318.00" y1="256.94" x2="319.60" y2="256.94" stroke="#000" stroke-width="1.2" />
<line x1="316.80" y1="248.52" x2="319.60" y2="248.52" stroke="#000" stroke-width="1.2" />
<text x="313.20" y="251.72" font-size="9" font-weight="bold" stroke="#000" stroke-width="0.3" text-anchor="end" >14</text>
<line x1="488.93" y1="366.40" x2="488.93" y2="368.10" stroke="#000" stroke-width="1.2" />
<line x1="479.54" y1="366.40" x2="479.54" y2="369.40" stroke="#000" stroke-width="1.2" />
<text x="479.54" y="381.20" font-size="9" font-weight="bold" stroke="#000" stroke-width="0.3" text-anchor="middle" >4</text>
<line x1="470.15" y1="366.40" x2="470.15" y2="368.10" stroke="#000" stroke-width="1.2" />
<line x1="460.76" y1="366.40" x2="460.76" y2="368.10" stroke="#000" stroke-width="1.2" />
<line x1="451.37" y1="366.40" x2="451.37" y2="368.10" stroke="#000" stroke-width="1.2" />
<line x1="441.98" y1="366.40" x2="441.98" y2="369.40" stroke="#000" stroke-width="1.2" />
<text x="441.98" y="381.20" font-size="9" font-weight="bold" stroke="#000" stroke-width="0.3" text-anchor="middle" >8</text>
<line x1="432.59" y1="366.40" x2="432.59" y2="368.10" stroke="#000" stroke-width="1.2" />
<line x1="423.20" y1="366.40" x2="423.20" y2="368.10" stroke="#000" stroke-width="1.2" />
<line x1="413.81" y1="366.40" x2="413.81" y2="368.10" stroke="#000" stroke-width="1.2" />
<line x1="404.42" y1="366.40" x2="404.42" y2="369.40" stroke="#000" stroke-width="1.2" />
<text x="404.42" y="381.20" font-size="9" font-weight="bold" stroke="#000" stroke-width="0.3" text-anchor="middle" >12</text>
<line x1="395.03" y1="366.40" x2="395.03" y2="368.10" stroke="#000" stroke-width="1.2" />
<line x1="385.64" y1="366.40" x2="385.64" y2="368.10" stroke="#000" stroke-width="1.2" />
<line x1="376.25" y1="366.40" x2="376.25" y2="368.10" stroke="#000" stroke-width="1.2" />
<line x1="366.86" y1="366.40" x2="366.86" y2="369.40" stroke="#000" stroke-width="1.2" />
<text x="366.86" y="381.20" font-size="9" font-weight="bold" stroke="#000" stroke-width="0.3" text-anchor="middle" >16</text>
<line x1="357.47" y1="366.40" x2="357.47" y2="368.10" stroke="#000" stroke-width="1.2" />
<line x1="348.08" y1="366.40" x2="348.08" y2="368.10" stroke="#000" stroke-width="1.2" />
<line x1="338.69" y1="366.40" x2="338.69" y2="368.10" stroke="#000" stroke-width="1.2" />
<line x1="329.30" y1="366.40" x2="329.30" y2="369.40" stroke="#000" stroke-width="1.2" />
<text x="329.30" y="381.20" font-size="9" font-weight="bold" stroke="#000" stroke-width="0.3" text-anchor="middle" >20</text>
<line x1="319.91" y1="366.40" x2="319.91" y2="368.10" stroke="#000" stroke-width="1.2" />
<text x="403.70" y="397.7" font-size="9" font-weight="bold" stroke="#000" stroke-width="0.3" text-anchor="middle">Water <tspan font-style="italic">P</tspan>O<tspan font-size="6.3" dy="2.4">2</tspan><tspan dy="-2.4"> (kPa)</tspan></text>
<text x="339.80" y="250.80" font-size="17" font-weight="bold" text-anchor="middle" >(d)</text>
<text transform="translate(292,308.8) rotate(-90)" font-size="8.9" font-weight="bold" stroke="#000" stroke-width="0.3" text-anchor="middle">Blood lactate (mmol l<tspan font-size="6.5" dy="-3.8">-1</tspan><tspan dy="3.8">)</tspan></text>
<line x1="331.50" y1="270.70" x2="489.93" y2="270.70" stroke="#bdbdbd" stroke-width="1.6" stroke-dasharray="1.2 2.53"/>
<line x1="325.40" y1="258.40" x2="325.40" y2="283.20" stroke="#000" stroke-width="1.3" />
<line x1="322.40" y1="258.40" x2="328.40" y2="258.40" stroke="#000" stroke-width="1.3" />
<line x1="322.40" y1="283.20" x2="328.40" y2="283.20" stroke="#000" stroke-width="1.3" />
<circle cx="325.40" cy="270.70" r="3.85" fill="#fff" stroke="#000" stroke-width="1.3"/>
<rect x="321.80" y="360.40" width="7.4" height="7.4" fill="#000"/>
<rect x="370.60" y="358.60" width="7.4" height="7.4" fill="#000"/>
<rect x="394.20" y="362.40" width="7.4" height="7.4" fill="#000"/>
<rect x="413.90" y="359.10" width="7.4" height="7.4" fill="#000"/>
<rect x="433.50" y="357.60" width="7.4" height="7.4" fill="#000"/>
<rect x="453.60" y="358.60" width="7.4" height="7.4" fill="#000"/>
<rect x="473.90" y="357.90" width="7.4" height="7.4" fill="#000"/>
</svg>
</body></html>
